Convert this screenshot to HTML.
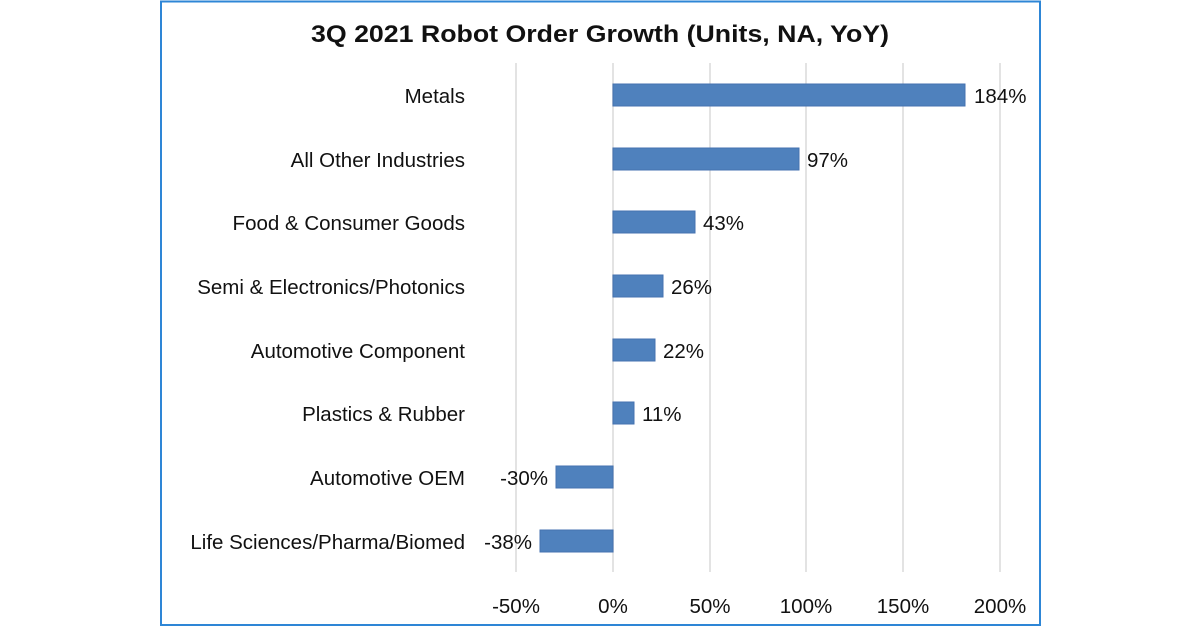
<!DOCTYPE html>
<html><head><style>
body{margin:0;background:#fff;width:1200px;height:628px;overflow:hidden}
</style></head><body>
<svg width="1200" height="628" xmlns="http://www.w3.org/2000/svg" font-family="Liberation Sans, sans-serif">
<rect x="161" y="1.5" width="879" height="623.5" fill="#fff" stroke="#2e86d6" stroke-width="2"/>
<text x="600" y="42" text-anchor="middle" font-size="24" font-weight="bold" fill="#111" textLength="578" lengthAdjust="spacingAndGlyphs">3Q 2021 Robot Order Growth (Units, NA, YoY)</text>
<g stroke="#e3e3e3" stroke-width="2">
<line x1="516" y1="63" x2="516" y2="572"/><line x1="613" y1="63" x2="613" y2="572"/>
<line x1="710" y1="63" x2="710" y2="572"/><line x1="806" y1="63" x2="806" y2="572"/>
<line x1="903" y1="63" x2="903" y2="572"/><line x1="1000" y1="63" x2="1000" y2="572"/>
</g>
<g fill="#4f81bd" stroke="#4472b0" stroke-width="1">
<rect x="613" y="84" width="352" height="22"/>
<rect x="613" y="148" width="186" height="22"/>
<rect x="613" y="211" width="82" height="22"/>
<rect x="613" y="275" width="50" height="22"/>
<rect x="613" y="339" width="42" height="22"/>
<rect x="613" y="402" width="21" height="22"/>
<rect x="556" y="466" width="57" height="22"/>
<rect x="540" y="530" width="73" height="22"/>
</g>
<g font-size="20.5" fill="#111" text-anchor="end">
<text x="465" y="103">Metals</text>
<text x="465" y="167">All Other Industries</text>
<text x="465" y="230">Food &amp; Consumer Goods</text>
<text x="465" y="294">Semi &amp; Electronics/Photonics</text>
<text x="465" y="358">Automotive Component</text>
<text x="465" y="421">Plastics &amp; Rubber</text>
<text x="465" y="485">Automotive OEM</text>
<text x="465" y="549">Life Sciences/Pharma/Biomed</text>
<text x="548" y="485">-30%</text>
<text x="532" y="549">-38%</text>
</g>
<g font-size="20.5" fill="#111">
<text x="974" y="103">184%</text>
<text x="807" y="167">97%</text>
<text x="703" y="230">43%</text>
<text x="671" y="294">26%</text>
<text x="663" y="358">22%</text>
<text x="642" y="421">11%</text>
</g>
<g font-size="20.5" fill="#111" text-anchor="middle">
<text x="516" y="613">-50%</text><text x="613" y="613">0%</text>
<text x="710" y="613">50%</text><text x="806" y="613">100%</text>
<text x="903" y="613">150%</text><text x="1000" y="613">200%</text>
</g>
</svg>
</body></html>
